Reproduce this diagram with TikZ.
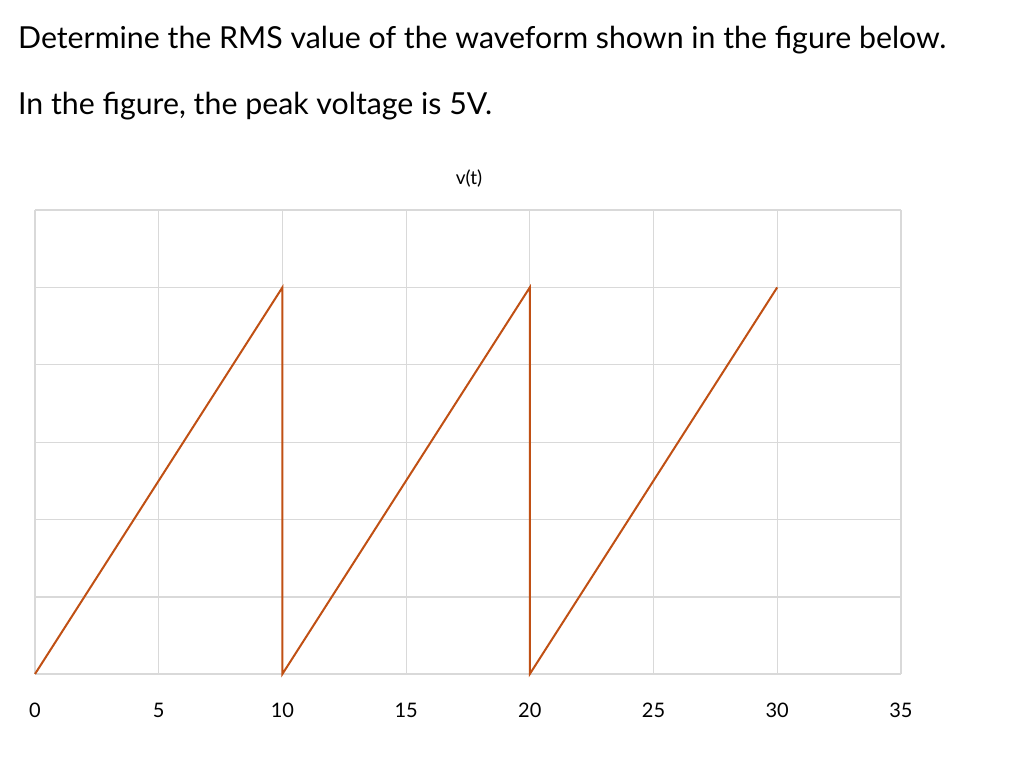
\documentclass[tikz,border=0pt]{standalone}
\usepackage{fontspec}
\setmainfont{Lato}
\definecolor{gridc}{RGB}{217,217,217}
\definecolor{wave}{RGB}{192,80,20}
\begin{document}
\begin{tikzpicture}[x=1pt,y=-1pt,
  gridline/.style={draw=gridc,line width=1.2pt},
  waveline/.style={draw=wave,line width=2pt},
  ticklbl/.style={font=\fontsize{20}{24}\selectfont,anchor=center},
  big/.style={font=\fontsize{30.3}{36}\selectfont,anchor=west,inner sep=0pt}]
\useasboundingbox (0,0) rectangle (1024,760);
\node[big] (t1) at (18,40) {Determine the RMS value of the waveform shown in the figure below.};
\node[big] (t2) at (18,106) {In the figure, the peak voltage is 5V.};
\node[font=\fontsize{19}{22}\selectfont] (vt) at (469,179) {v(t)};
\foreach \i in {0,...,7} {
  \draw[gridline] ({35+\i*123.7},210) -- ({35+\i*123.7},674);
  \pgfmathtruncatemacro{\lab}{5*\i}
  \node[ticklbl] (l\i) at ({35+\i*123.7},710) {\lab};
}
\foreach \y in {210,287.4,364.8,442.2,519.6,597,674} \draw[gridline] (35,\y) -- (901,\y);
\coordinate (a0) at (35,674);
\coordinate (p1) at (282.4,287.4);
\coordinate (b1) at (282.4,674);
\coordinate (p2) at (529.8,287.4);
\coordinate (b2) at (529.8,674);
\coordinate (p3) at (777.2,287.4);
\draw[waveline] (a0) -- (p1) -- (b1) -- (p2) -- (b2) -- (p3);
\end{tikzpicture}
\end{document}
